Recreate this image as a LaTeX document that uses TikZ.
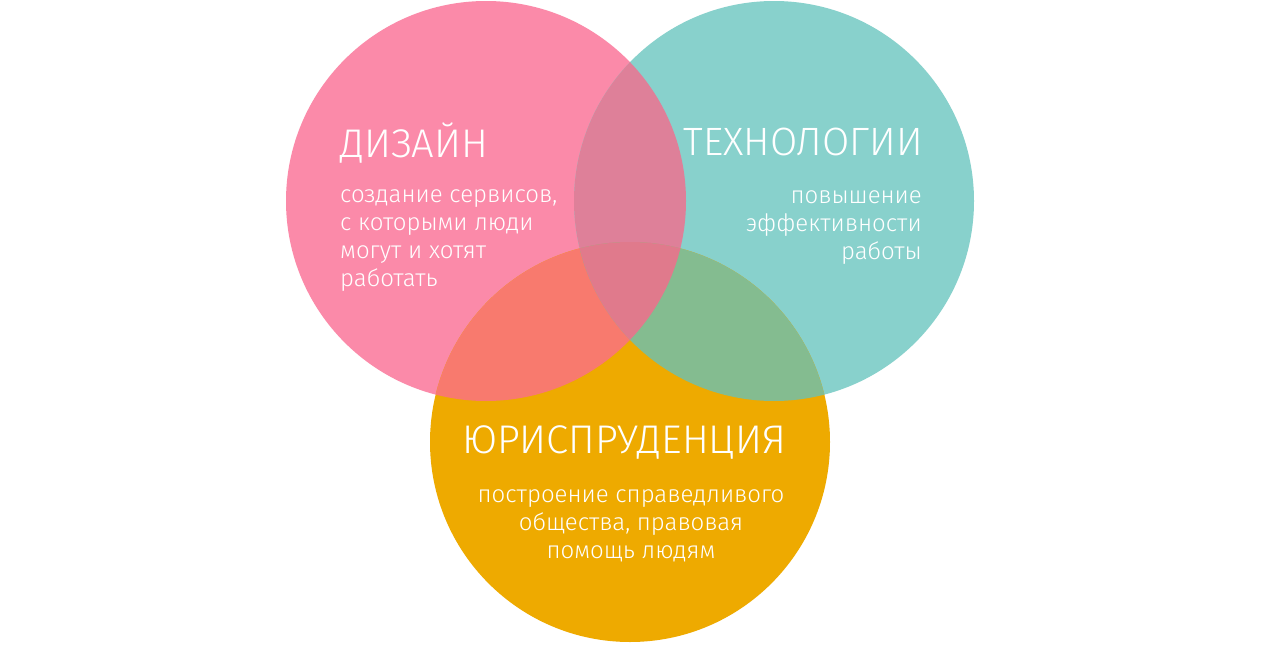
\documentclass[tikz,border=0pt]{standalone}
\usepackage{fontspec}
\setmainfont{Fira Sans}[UprightFont=* Light]
\definecolor{cpink}{HTML}{FB8AA9}
\definecolor{cteal}{HTML}{88D1CC}
\definecolor{cyell}{HTML}{EEAA00}
\definecolor{cpt}{HTML}{DE8099}
\definecolor{cpy}{HTML}{F87A6E}
\definecolor{cty}{HTML}{84BC90}
\definecolor{cpty}{HTML}{E07A8C}
\def\pinkpath{(486,201) circle[radius=200]}
\def\tealpath{(774,201) circle[radius=200]}
\def\yellpath{(630,442) circle[radius=200]}
\begin{document}
\begin{tikzpicture}[x=1pt,y=-1pt,
  title/.style={text=white,font=\fontsize{40}{40}\selectfont,inner sep=0pt},
  body/.style={text=white,font=\fontsize{24}{28}\selectfont,inner sep=0pt}]
\useasboundingbox[fill=white] (0,0) rectangle (1280,645);
\fill[cpink] \pinkpath;
\fill[cteal] \tealpath;
\fill[cyell] \yellpath;
\begin{scope}\clip \pinkpath; \fill[cpt] \tealpath; \end{scope}
\begin{scope}\clip \pinkpath; \fill[cpy] \yellpath; \end{scope}
\begin{scope}\clip \tealpath; \fill[cty] \yellpath; \end{scope}
\begin{scope}\clip \pinkpath; \clip \tealpath; \fill[cpty] \yellpath; \end{scope}
\node[title,anchor=base west] (dtitle) at (340,157) {ДИЗАЙН};
\node[body,anchor=base west] (d1) at (340,202) {создание сервисов,};
\node[body,anchor=base west] (d2) at (340,230) {с которыми люди};
\node[body,anchor=base west] (d3) at (340,258) {могут и хотят};
\node[body,anchor=base west] (d4) at (340,286) {работать};
\node[title,anchor=base east,font=\fontsize{39.5}{40}\selectfont] (ttitle) at (923,155) {ТЕХНОЛОГИИ};
\node[body,anchor=base east] (t1) at (922,203) {повышение};
\node[body,anchor=base east] (t2) at (922,231) {эффективности};
\node[body,anchor=base east] (t3) at (922,259) {работы};
\node[title,anchor=base] (ytitle) at (624,453) {ЮРИСПРУДЕНЦИЯ};
\node[body,anchor=base] (y1) at (631,502) {построение справедливого};
\node[body,anchor=base] (y2) at (631,530) {общества, правовая};
\node[body,anchor=base] (y3) at (631,558) {помощь людям};
\end{tikzpicture}
\end{document}
